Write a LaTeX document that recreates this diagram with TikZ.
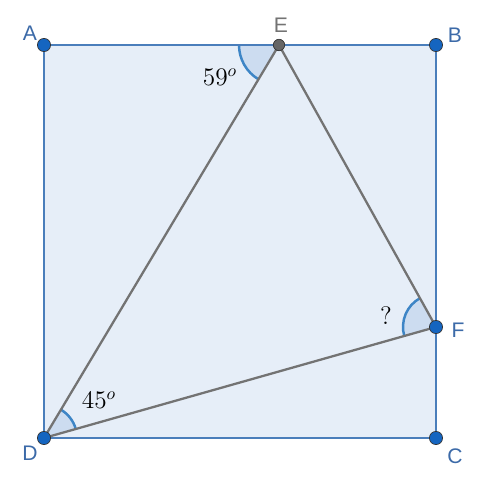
\documentclass[tikz,border=0pt]{standalone}
\usepackage{fontspec}
\setsansfont{Liberation Sans}
\usetikzlibrary{angles, calc}
\definecolor{sqfill}{HTML}{E6EEF8}
\definecolor{sqline}{HTML}{4A7EBB}
\definecolor{ptblue}{HTML}{1565C0}
\definecolor{lblblue}{HTML}{3C6AA8}
\definecolor{angfill}{HTML}{CCDCF0}
\definecolor{angline}{HTML}{3D85C6}

\begin{document}
\begin{tikzpicture}[
  sqedge/.style={draw=sqline, line width=1.3pt},
  seg/.style={draw=gray!90!black, line width=1.3pt},
  pt/.style={circle, draw=black!80, fill=ptblue, inner sep=0pt, minimum size=7.5pt},
  ptgray/.style={circle, draw=black!80, fill=gray!80!black, inner sep=0pt, minimum size=6.5pt},
  lbl/.style={text=lblblue, font=\sffamily\large},
  anglemark/.style={draw=angline, fill=angfill, line width=1.4pt}
]
\useasboundingbox (0,0) rectangle (9.66,9.72);

% Square
\coordinate (A) at (0.88,8.82);
\coordinate (B) at (8.72,8.82);
\coordinate (C) at (8.72,0.96);
\coordinate (D) at (0.88,0.96);
\coordinate (E) at (5.58,8.82);
\coordinate (F) at (8.72,3.18);

\fill[sqfill] (A) -- (B) -- (C) -- (D) -- cycle;

% Angles
\pic[anglemark, angle radius=0.8cm] {angle=A--E--D};
\pic[anglemark, angle radius=0.66cm] {angle=F--D--E};
\pic[anglemark, angle radius=0.66cm] {angle=E--F--D};

\draw[sqedge] (A) -- (B) -- (C) -- (D) -- cycle;

% Triangle
\draw[seg] (D) -- (E) -- (F) -- (D);

% Points
\node[pt] (pA) at (A) {};
\node[pt] (pB) at (B) {};
\node[pt] (pC) at (C) {};
\node[pt] (pD) at (D) {};
\node[ptgray] (pE) at (E) {};
\node[pt] (pF) at (F) {};

% Labels
\node[lbl] (lA) at (0.6,9.06) {A};
\node[lbl] (lB) at (9.1,9.02) {B};
\node[lbl, text=gray!90!black] (lE) at (5.62,9.22) {E};
\node[lbl] (lF) at (9.16,3.12) {F};
\node[lbl] (lD) at (0.6,0.66) {D};
\node[lbl] (lC) at (9.1,0.6) {C};

\node (a59) at (4.4,8.18) {\Large $59^o$};
\node (aq) at (7.72,3.4) {\Large ?};
\node (a45) at (1.98,1.72) {\Large $45^o$};

\end{tikzpicture}
\end{document}
